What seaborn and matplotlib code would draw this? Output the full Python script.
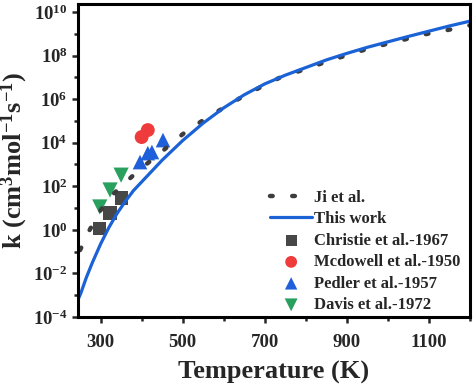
import matplotlib
matplotlib.use("Agg")
import matplotlib.pyplot as plt
import numpy as np
import pandas as pd
import seaborn as sns
from matplotlib.ticker import FixedLocator, FuncFormatter, NullFormatter

# data (temperature in K, k given as log10)
ji_T = [250, 272, 300, 320, 362, 400, 438, 474, 514, 559, 604, 648, 692,
        738, 791, 843, 892, 940, 994, 1043, 1091, 1145, 1200]
ji_logk = [-0.93, -0.05, 0.9, 1.45, 2.2, 2.85, 3.4, 4.0, 4.6, 5.14, 5.65, 6.14, 6.57,
           7.0, 7.33, 7.67, 7.97, 8.25, 8.52, 8.75, 8.98, 9.17, 9.39]

work_T = [245, 252, 265, 280, 300, 320, 340, 360, 380, 400, 425, 450, 475, 500,
          550, 600, 650, 700, 750, 800, 850, 900, 950, 1000, 1050, 1100, 1150, 1200]
work_logk = [-3.2, -2.9, -2.2, -1.5, -0.65, 0.1, 0.75, 1.3, 1.8, 2.2, 2.7, 3.2, 3.65, 4.1,
             4.9, 5.6, 6.2, 6.7, 7.1, 7.45, 7.8, 8.1, 8.38, 8.63, 8.88, 9.12, 9.36, 9.58]

christie_T = [297, 323, 350]
christie_logk = [0.08, 0.77, 1.46]
mcdowell_T = [400, 415]
mcdowell_logk = [4.26, 4.58]
pedler_T = [396, 415, 425, 452]
pedler_logk = [3.11, 3.52, 3.57, 4.12]
davis_T = [298, 323, 350]
davis_logk = [1.05, 1.83, 2.51]

x_ticks = [300, 500, 700, 900, 1100]
x_minor = [400, 600, 800, 1000, 1200]
y_major_exp = [-4, -2, 0, 2, 4, 6, 8, 10]
y_minor_exp = [-3, -1, 1, 3, 5, 7, 9]

sns.set_style("ticks")
plt.rcParams['font.family'] = ['Liberation Serif', 'DejaVu Serif']
plt.rcParams['font.weight'] = 'bold'
plt.rcParams['mathtext.fontset'] = 'custom'
plt.rcParams['mathtext.rm'] = 'Liberation Serif:bold'
plt.rcParams['mathtext.it'] = 'Liberation Serif:bold'
plt.rcParams['mathtext.bf'] = 'Liberation Serif:bold'

fig = plt.figure(figsize=(4.74, 3.86), dpi=100)
ax = fig.add_axes([0.1646, 0.1788, 0.827, 0.811])

ji = pd.DataFrame({'T': ji_T, 'k': np.power(10.0, ji_logk)})
work = pd.DataFrame({'T': work_T, 'k': np.power(10.0, work_logk)})

sns.lineplot(data=ji, x='T', y='k', ax=ax, color='#3d3d3d', lw=3.2,
             linestyle=(0, (0.6, 4.4)), dash_capstyle='round',
             sort=False, estimator=None, label='Ji et al.')
sns.lineplot(data=work, x='T', y='k', ax=ax, color='#1a62d6', lw=2.3,
             sort=False, estimator=None, label='This work')

sns.scatterplot(x=christie_T, y=np.power(10.0, christie_logk), ax=ax, marker='s',
                s=90, color='#474747', edgecolor='none', label='Christie et al.-1967')
sns.scatterplot(x=mcdowell_T, y=np.power(10.0, mcdowell_logk), ax=ax, marker='o',
                s=100, color='#ef3b3b', edgecolor='none', label='Mcdowell et al.-1950')
sns.scatterplot(x=pedler_T, y=np.power(10.0, pedler_logk), ax=ax, marker='^',
                s=110, color='#1f60da', edgecolor='none', label='Pedler et al.-1957')
sns.scatterplot(x=davis_T, y=np.power(10.0, davis_logk), ax=ax, marker='v',
                s=120, color='#2aa05e', edgecolor='none', label='Davis et al.-1972')

ax.set_yscale('log')
ax.set_xlim(245, 1200)
ax.set_ylim(1e-4, 10 ** 10.37)

ax.xaxis.set_major_locator(FixedLocator(x_ticks))
ax.xaxis.set_minor_locator(FixedLocator(x_minor))
ax.yaxis.set_major_locator(FixedLocator([10.0 ** e for e in y_major_exp]))
ax.yaxis.set_minor_locator(FixedLocator([10.0 ** e for e in y_minor_exp]))
ax.yaxis.set_major_formatter(FuncFormatter(lambda v, p: r'$10^{%d}$' % round(np.log10(v))))
ax.yaxis.set_minor_formatter(NullFormatter())

ax.tick_params(axis='both', which='major', direction='out', length=4.5, width=1.8,
               labelsize=13.5)
ax.tick_params(axis='x', which='major', pad=8)
ax.tick_params(axis='y', which='major', pad=3)
ax.tick_params(axis='both', which='minor', direction='out', length=3, width=1.8)
for lab in ax.get_xticklabels():
    lab.set_fontweight('bold')

for sp in ax.spines.values():
    sp.set_linewidth(2.2)
    sp.set_color('black')

ax.set_xlabel('Temperature (K)', fontsize=19, fontweight='bold', labelpad=7)
ax.set_ylabel(r'k (cm$^{3}$mol$^{-1}$s$^{-1}$)', fontsize=19, fontweight='bold', labelpad=2)

leg = ax.legend(loc='lower right', bbox_to_anchor=(1.0, -0.02), frameon=False,
                fontsize=12, handlelength=2.5, handletextpad=0.1, labelspacing=0.33,
                borderaxespad=0.2, markerscale=0.85)
for t in leg.get_texts():
    t.set_fontweight('bold')

fig.savefig('out.png', dpi=100)
